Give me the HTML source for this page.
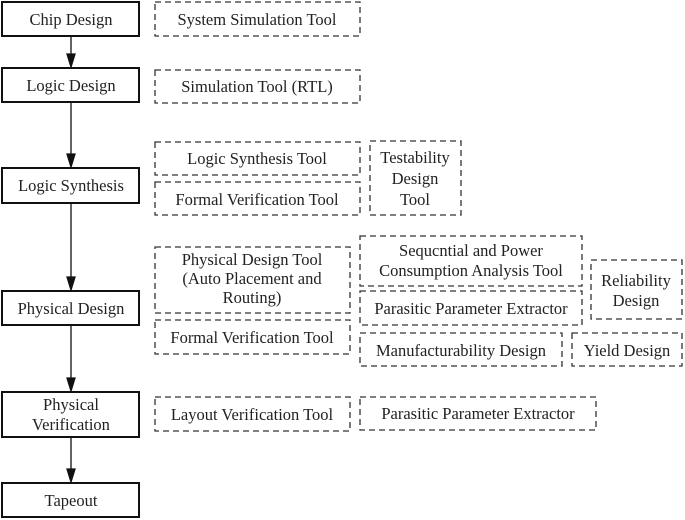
<!DOCTYPE html>
<html><head><style>html,body{margin:0;padding:0;background:#fff}svg{display:block}text{font-family:"Liberation Serif",serif;font-size:16.5px;fill:#222;text-anchor:middle}</style></head><body>
<svg width="685" height="520" xmlns="http://www.w3.org/2000/svg">
<defs><marker id="a" markerWidth="8" markerHeight="12" refX="4" refY="12" orient="auto" markerUnits="userSpaceOnUse"><path d="M0,0 L8,0 L4,12 Z" transform="rotate(-90 4 6) translate(0,0)" fill="#111"/></marker></defs>
<g fill="none" stroke="#111" stroke-width="2">
<rect x="2" y="2" width="137" height="34"/>
<rect x="2" y="68" width="137" height="34"/>
<rect x="2" y="168" width="137" height="35"/>
<rect x="2" y="291" width="137" height="34"/>
<rect x="2" y="392" width="137" height="45"/>
<rect x="2" y="483" width="137" height="34"/>
</g>
<g stroke="#111" stroke-width="1.3" fill="#111">
<line x1="71" y1="36" x2="71" y2="56"/><path d="M67,54 L75,54 L71,67 Z"/>
<line x1="71" y1="102" x2="71" y2="156"/><path d="M67,154 L75,154 L71,167 Z"/>
<line x1="71" y1="203" x2="71" y2="279"/><path d="M67,277 L75,277 L71,290 Z"/>
<line x1="71" y1="325" x2="71" y2="380"/><path d="M67,378 L75,378 L71,391 Z"/>
<line x1="71" y1="437" x2="71" y2="471"/><path d="M67,469 L75,469 L71,482 Z"/>
</g>
<g fill="none" stroke="#333" stroke-width="1.3" stroke-dasharray="6,4">
<rect x="155" y="2" width="205" height="34"/>
<rect x="155" y="70" width="205" height="33"/>
<rect x="155" y="142" width="205" height="33"/>
<rect x="155" y="182" width="205" height="33"/>
<rect x="370" y="141" width="91" height="74"/>
<rect x="155" y="247" width="195" height="66"/>
<rect x="155" y="320" width="195" height="34"/>
<rect x="360" y="236" width="222" height="50"/>
<rect x="360" y="291" width="222" height="34"/>
<rect x="591" y="260" width="91" height="59"/>
<rect x="360" y="333" width="202" height="33"/>
<rect x="572" y="333" width="110" height="33"/>
<rect x="155" y="397" width="195" height="34"/>
<rect x="360" y="397" width="236" height="33"/>
</g>
<text x="71" y="25">Chip Design</text>
<text x="71" y="91">Logic Design</text>
<text x="71" y="191">Logic Synthesis</text>
<text x="71" y="314">Physical Design</text>
<text x="71" y="410">Physical</text>
<text x="71" y="430">Verification</text>
<text x="71" y="506">Tapeout</text>
<text x="257" y="25">System Simulation Tool</text>
<text x="257" y="92">Simulation Tool (RTL)</text>
<text x="257" y="164">Logic Synthesis Tool</text>
<text x="257" y="205">Formal Verification Tool</text>
<text x="415" y="163">Testability</text>
<text x="415" y="184">Design</text>
<text x="415" y="205">Tool</text>
<text x="252" y="265">Physical Design Tool</text>
<text x="252" y="284">(Auto Placement and</text>
<text x="252" y="303">Routing)</text>
<text x="252" y="343">Formal Verification Tool</text>
<text x="471" y="256">Sequcntial and Power</text>
<text x="471" y="276">Consumption Analysis Tool</text>
<text x="471" y="314">Parasitic Parameter Extractor</text>
<text x="636" y="286">Reliability</text>
<text x="636" y="306">Design</text>
<text x="461" y="356">Manufacturability Design</text>
<text x="627" y="356">Yield Design</text>
<text x="252" y="420">Layout Verification Tool</text>
<text x="478" y="419">Parasitic Parameter Extractor</text>
</svg>
</body></html>
